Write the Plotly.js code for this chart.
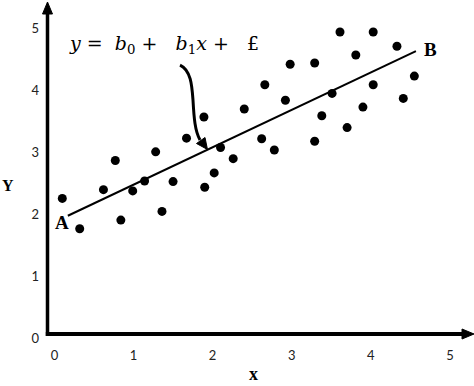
<!DOCTYPE html>
<html>
<head>
<meta charset="utf-8">
<script src="https://cdn.plot.ly/plotly-3.0.1.min.js"></script>
<style>html,body{margin:0;padding:0;background:#fff;}#chart{width:474px;height:386px;}</style>
</head>
<body>
<div id="chart"></div>
<script>
// Data
const pointX = [0.10,0.32,0.62,0.77,0.84,0.99,1.14,1.28,1.36,1.50,1.67,1.89,1.90,2.02,2.10,2.26,2.40,2.62,2.66,2.78,2.92,2.98,3.29,3.29,3.38,3.51,3.61,3.70,3.81,3.90,4.03,4.03,4.33,4.41,4.55];
const pointY = [2.26,1.77,2.40,2.87,1.91,2.38,2.54,3.01,2.05,2.53,3.23,3.57,2.44,2.67,3.08,2.90,3.70,3.22,4.09,3.04,3.84,4.42,4.44,3.18,3.59,3.95,4.94,3.40,4.57,3.73,4.94,4.09,4.71,3.87,4.23];
const lineX = [0.17, 4.57];
const lineY = [1.98, 4.63];
const tickVals = [0,1,2,3,4,5];
const tickText = ['0','1','2','3','4','5'];

// layout geometry
const W = 474, H = 386, ML = 40, MB = 40;
const PW = W - ML, PH = H - MB;
const px = x => (x - ML) / PW;      // pixel -> paper x
const py = y => (PH - y) / PH;      // pixel -> paper y
function path(pts, close) {
  return pts.map((p, i) => (i ? 'L' : 'M') + px(p[0]).toFixed(4) + ',' + py(p[1]).toFixed(4)).join(' ') + (close ? ' Z' : '');
}
function curve(seg) {
  // seg: [start, c1, c2, end, c1, c2, end ...]
  let s = 'M' + px(seg[0][0]).toFixed(4) + ',' + py(seg[0][1]).toFixed(4);
  for (let i = 1; i < seg.length; i += 3) {
    s += ' C' + [seg[i], seg[i+1], seg[i+2]].map(p => px(p[0]).toFixed(4) + ',' + py(p[1]).toFixed(4)).join(' ');
  }
  return s;
}

const shapes = [
  // y axis
  {type:'line', xref:'paper', yref:'paper', x0:px(47.5), x1:px(47.5), y0:py(336), y1:py(12), line:{color:'#000', width:3.5}},
  {type:'path', xref:'paper', yref:'paper', path:path([[47.5,2],[42.5,14],[52.5,14]], true), fillcolor:'#000', line:{color:'#000', width:1}},
  // x axis
  {type:'line', xref:'paper', yref:'paper', x0:px(45.8), x1:px(464), y0:py(334), y1:py(334), line:{color:'#000', width:4}},
  {type:'path', xref:'paper', yref:'paper', path:path([[474,334],[462,329],[462,339]], true), fillcolor:'#000', line:{color:'#000', width:1}},
  // curved pointer
  {type:'path', xref:'paper', yref:'paper', path:curve([[180,65],[191,70],[192,86],[193,100],[194,118],[195,131],[200,140]]), line:{color:'#000', width:3}},
  {type:'path', xref:'paper', yref:'paper', path:path([[207.5,149.5],[196.5,143.5],[205,137.5]], true), fillcolor:'#000', line:{color:'#000', width:1}}
];

const serifBold = {family:'"Liberation Serif", "Times New Roman", serif', size:19, color:'#000'};
const annotations = [
  {xref:'paper', yref:'paper', x:px(62), y:py(222), text:'<b>A</b>', showarrow:false, font:serifBold, xanchor:'center', yanchor:'middle'},
  {xref:'paper', yref:'paper', x:px(430), y:py(50), text:'<b>B</b>', showarrow:false, font:serifBold, xanchor:'center', yanchor:'middle'},
  {xref:'paper', yref:'paper', x:px(8), y:py(185), text:'<b>Y</b>', showarrow:false, font:{family:'"Liberation Serif", serif', size:16, color:'#000'}, xanchor:'center', yanchor:'middle'},
  {xref:'paper', yref:'paper', x:px(253), y:py(374), text:'<b>x</b>', showarrow:false, font:{family:'"Liberation Serif", serif', size:18, color:'#000'}, xanchor:'center', yanchor:'middle'},
  {xref:'paper', yref:'paper', x:px(164), y:py(45), text:'<i>y</i> =  <i>b</i><sub>0</sub> +   <i>b</i><sub>1</sub><i>x</i> +   £', showarrow:false,
   font:{family:'"DejaVu Serif", "Liberation Serif", serif', size:19, color:'#000'}, xanchor:'center', yanchor:'middle'}
];

const traces = [
  {type:'scatter', mode:'markers', x:pointX, y:pointY, marker:{color:'#000', size:9}, hoverinfo:'x+y'},
  {type:'scatter', mode:'lines', x:lineX, y:lineY, line:{color:'#000', width:2}, hoverinfo:'skip'}
];

const layout = {
  width:W, height:H,
  margin:{l:ML, r:0, t:0, b:MB, pad:0},
  paper_bgcolor:'#fff', plot_bgcolor:'#fff',
  showlegend:false,
  xaxis:{range:[-0.182, 5.304], showgrid:false, zeroline:false, showline:false, ticks:'', tickvals:tickVals, ticktext:tickText,
         tickfont:{family:'Lato, "Open Sans", sans-serif', size:13, color:'#222'}, fixedrange:true},
  yaxis:{range:[-0.1176, 5.455], showgrid:false, zeroline:false, showline:false, ticks:'', tickvals:tickVals, ticktext:tickText,
         tickfont:{family:'Lato, "Open Sans", sans-serif', size:13, color:'#222'}, fixedrange:true},
  shapes:shapes,
  annotations:annotations
};

Plotly.newPlot('chart', traces, layout, {displayModeBar:false, staticPlot:true});
</script>
</body>
</html>
